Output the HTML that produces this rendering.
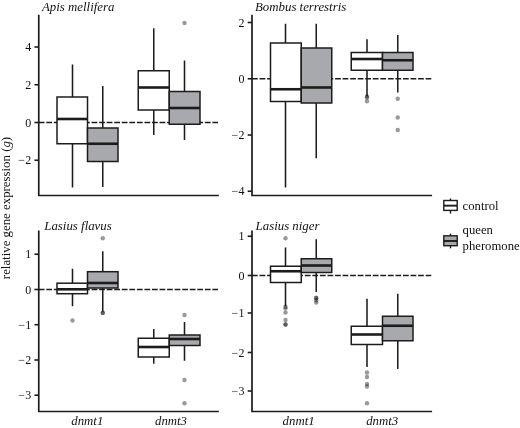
<!DOCTYPE html>
<html><head><meta charset="utf-8"><title>Relative gene expression</title>
<style>
html,body{margin:0;padding:0;background:#fff;}
svg{display:block;font-family:"Liberation Serif","Times New Roman",serif;}
.ax{fill:none;stroke:#1c1c1c;stroke-width:1.7;stroke-linecap:square;}
.tk{stroke:#1c1c1c;stroke-width:1.6;}
.w{stroke:#1c1c1c;stroke-width:1.55;}
.b{stroke:#1c1c1c;stroke-width:1.5;}
.m{stroke:#1c1c1c;stroke-width:2.6;}
.lk .m{stroke-width:1.9;}
.lk .b,.lk .w{stroke-width:1.4;}
.dz{stroke:#1c1c1c;stroke-width:1.65;stroke-dasharray:5.75 1.8;}
.o{fill:#000;fill-opacity:.4;}
.tl{font-size:12px;fill:#111;text-anchor:end;}
.ti{font-size:12.85px;font-style:italic;fill:#111;}
.xl{font-size:12.8px;font-style:italic;fill:#111;text-anchor:middle;}
.yl{font-size:12.85px;fill:#111;text-anchor:middle;}
.lg{font-size:12.68px;fill:#111;}
</style></head>
<body>
<svg width="520" height="428" viewBox="0 0 520 428">
<rect width="520" height="428" fill="#fff"/>
<path d="M38.75 15.5 V195.5 H218" class="ax"/>
<line x1="34.45" y1="47" x2="38.75" y2="47" class="tk"/>
<text x="31.15" y="51.1" class="tl">4</text>
<line x1="34.45" y1="84.75" x2="38.75" y2="84.75" class="tk"/>
<text x="31.15" y="88.85" class="tl">2</text>
<line x1="34.45" y1="122.5" x2="38.75" y2="122.5" class="tk"/>
<text x="31.15" y="126.6" class="tl">0</text>
<line x1="34.45" y1="160.25" x2="38.75" y2="160.25" class="tk"/>
<text x="31.15" y="164.35" class="tl">−2</text>
<line x1="38.75" y1="122.5" x2="218" y2="122.5" class="dz"/>
<text x="42" y="10.9" class="ti">Apis mellifera</text>
<line x1="72.5" y1="64.5" x2="72.5" y2="97" class="w"/>
<line x1="72.5" y1="143.75" x2="72.5" y2="187.5" class="w"/>
<rect x="57" y="97" width="30.5" height="46.75" fill="#ffffff" class="b"/>
<line x1="57" y1="119" x2="87.5" y2="119" class="m"/>
<line x1="102.75" y1="86" x2="102.75" y2="128" class="w"/>
<line x1="102.75" y1="161.5" x2="102.75" y2="187" class="w"/>
<rect x="87.5" y="128" width="30.5" height="33.5" fill="#a8a9ac" class="b"/>
<line x1="87.5" y1="143.75" x2="118" y2="143.75" class="m"/>
<line x1="153.75" y1="28.25" x2="153.75" y2="70.75" class="w"/>
<line x1="153.75" y1="110" x2="153.75" y2="135" class="w"/>
<rect x="138.25" y="70.75" width="31.0" height="39.25" fill="#ffffff" class="b"/>
<line x1="138.25" y1="87.5" x2="169.25" y2="87.5" class="m"/>
<line x1="184.5" y1="60.5" x2="184.5" y2="91.5" class="w"/>
<line x1="184.5" y1="124.25" x2="184.5" y2="140" class="w"/>
<rect x="169.25" y="91.5" width="30.75" height="32.75" fill="#a8a9ac" class="b"/>
<line x1="169.25" y1="108" x2="200" y2="108" class="m"/>
<circle cx="184.5" cy="23" r="2.2" class="o"/>
<path d="M252 15.5 V195.5 H431.25" class="ax"/>
<line x1="247.7" y1="22.5" x2="252" y2="22.5" class="tk"/>
<text x="244.4" y="26.6" class="tl">2</text>
<line x1="247.7" y1="78.75" x2="252" y2="78.75" class="tk"/>
<text x="244.4" y="82.85" class="tl">0</text>
<line x1="247.7" y1="135" x2="252" y2="135" class="tk"/>
<text x="244.4" y="139.1" class="tl">−2</text>
<line x1="247.7" y1="191.25" x2="252" y2="191.25" class="tk"/>
<text x="244.4" y="195.35" class="tl">−4</text>
<line x1="252" y1="78.75" x2="431.25" y2="78.75" class="dz"/>
<text x="255.0" y="10.9" class="ti">Bombus terrestris</text>
<line x1="285.5" y1="23.75" x2="285.5" y2="43" class="w"/>
<line x1="285.5" y1="101.5" x2="285.5" y2="187.5" class="w"/>
<rect x="270.5" y="43" width="30.75" height="58.5" fill="#ffffff" class="b"/>
<line x1="270.5" y1="89.25" x2="301.25" y2="89.25" class="m"/>
<line x1="316.25" y1="23.75" x2="316.25" y2="48" class="w"/>
<line x1="316.25" y1="103" x2="316.25" y2="158.25" class="w"/>
<rect x="301.25" y="48" width="30.5" height="55" fill="#a8a9ac" class="b"/>
<line x1="301.25" y1="87.5" x2="331.75" y2="87.5" class="m"/>
<line x1="367" y1="39.25" x2="367" y2="52.5" class="w"/>
<line x1="367" y1="70.25" x2="367" y2="96.25" class="w"/>
<rect x="351.25" y="52.5" width="31.25" height="17.75" fill="#ffffff" class="b"/>
<line x1="351.25" y1="59" x2="382.5" y2="59" class="m"/>
<line x1="397.75" y1="35" x2="397.75" y2="52.5" class="w"/>
<line x1="397.75" y1="70.25" x2="397.75" y2="92.5" class="w"/>
<rect x="382.5" y="52.5" width="30.5" height="17.75" fill="#a8a9ac" class="b"/>
<line x1="382.5" y1="60.25" x2="413" y2="60.25" class="m"/>
<circle cx="367" cy="96.5" r="2.2" class="o"/>
<circle cx="367" cy="97.5" r="2.2" class="o"/>
<circle cx="367" cy="101.25" r="2.2" class="o"/>
<circle cx="397.75" cy="98.75" r="2.2" class="o"/>
<circle cx="397.75" cy="117.5" r="2.2" class="o"/>
<circle cx="397.75" cy="130" r="2.2" class="o"/>
<path d="M38.75 231.25 V411.5 H218" class="ax"/>
<line x1="34.45" y1="254.25" x2="38.75" y2="254.25" class="tk"/>
<text x="31.15" y="258.35" class="tl">1</text>
<line x1="34.45" y1="289.5" x2="38.75" y2="289.5" class="tk"/>
<text x="31.15" y="293.6" class="tl">0</text>
<line x1="34.45" y1="324.7" x2="38.75" y2="324.7" class="tk"/>
<text x="31.15" y="328.8" class="tl">−1</text>
<line x1="34.45" y1="360" x2="38.75" y2="360" class="tk"/>
<text x="31.15" y="364.1" class="tl">−2</text>
<line x1="34.45" y1="395.2" x2="38.75" y2="395.2" class="tk"/>
<text x="31.15" y="399.3" class="tl">−3</text>
<line x1="38.75" y1="289.5" x2="218" y2="289.5" class="dz"/>
<text x="44.3" y="229.5" class="ti">Lasius flavus</text>
<line x1="72.5" y1="268.75" x2="72.5" y2="283.2" class="w"/>
<line x1="72.5" y1="293.7" x2="72.5" y2="306.25" class="w"/>
<rect x="57" y="283.2" width="30.5" height="10.5" fill="#ffffff" class="b"/>
<line x1="57" y1="289.3" x2="87.5" y2="289.3" class="m"/>
<line x1="102.75" y1="251.25" x2="102.75" y2="271.7" class="w"/>
<line x1="102.75" y1="288" x2="102.75" y2="311.5" class="w"/>
<rect x="87.5" y="271.7" width="30.5" height="16.30000000000001" fill="#a8a9ac" class="b"/>
<line x1="87.5" y1="283" x2="118" y2="283" class="m"/>
<circle cx="72.5" cy="320.5" r="2.2" class="o"/>
<circle cx="102.75" cy="238.25" r="2.2" class="o"/>
<circle cx="102.75" cy="312.7" r="2.2" class="o"/>
<circle cx="102.75" cy="313.0" r="2.2" class="o"/>
<line x1="153.75" y1="329" x2="153.75" y2="338.25" class="w"/>
<line x1="153.75" y1="357" x2="153.75" y2="363.75" class="w"/>
<rect x="138.25" y="338.25" width="31.0" height="18.75" fill="#ffffff" class="b"/>
<line x1="138.25" y1="347" x2="169.25" y2="347" class="m"/>
<line x1="184.5" y1="322" x2="184.5" y2="335" class="w"/>
<line x1="184.5" y1="345.5" x2="184.5" y2="360.75" class="w"/>
<rect x="169.25" y="335" width="30.75" height="10.5" fill="#a8a9ac" class="b"/>
<line x1="169.25" y1="339" x2="200" y2="339" class="m"/>
<circle cx="184.5" cy="315" r="2.2" class="o"/>
<circle cx="184.5" cy="380" r="2.2" class="o"/>
<circle cx="184.5" cy="403.25" r="2.2" class="o"/>
<path d="M252 231.25 V411.5 H431.25" class="ax"/>
<line x1="247.7" y1="236.25" x2="252" y2="236.25" class="tk"/>
<text x="244.4" y="240.35" class="tl">1</text>
<line x1="247.7" y1="275.5" x2="252" y2="275.5" class="tk"/>
<text x="244.4" y="279.6" class="tl">0</text>
<line x1="247.7" y1="313" x2="252" y2="313" class="tk"/>
<text x="244.4" y="317.1" class="tl">−1</text>
<line x1="247.7" y1="352.5" x2="252" y2="352.5" class="tk"/>
<text x="244.4" y="356.6" class="tl">−2</text>
<line x1="247.7" y1="391" x2="252" y2="391" class="tk"/>
<text x="244.4" y="395.1" class="tl">−3</text>
<line x1="252" y1="275.5" x2="431.25" y2="275.5" class="dz"/>
<text x="255.6" y="229.5" class="ti">Lasius niger</text>
<line x1="285.5" y1="247.5" x2="285.5" y2="266.25" class="w"/>
<line x1="285.5" y1="282.5" x2="285.5" y2="306" class="w"/>
<rect x="270.5" y="266.25" width="30.75" height="16.25" fill="#ffffff" class="b"/>
<line x1="270.5" y1="271.25" x2="301.25" y2="271.25" class="m"/>
<line x1="316.25" y1="239.25" x2="316.25" y2="258.75" class="w"/>
<line x1="316.25" y1="272.5" x2="316.25" y2="292" class="w"/>
<rect x="301.25" y="258.75" width="30.5" height="13.75" fill="#a8a9ac" class="b"/>
<line x1="301.25" y1="265.5" x2="331.75" y2="265.5" class="m"/>
<circle cx="285.5" cy="238.25" r="2.2" class="o"/>
<circle cx="285.5" cy="306.8" r="2.2" class="o"/>
<circle cx="285.5" cy="308.2" r="2.2" class="o"/>
<circle cx="285.5" cy="312.5" r="2.2" class="o"/>
<circle cx="285.5" cy="320" r="2.2" class="o"/>
<circle cx="285.5" cy="324.3" r="2.2" class="o"/>
<circle cx="285.5" cy="324.8" r="2.2" class="o"/>
<circle cx="316.25" cy="297.8" r="2.2" class="o"/>
<circle cx="316.25" cy="298.3" r="2.2" class="o"/>
<circle cx="316.25" cy="300.2" r="2.2" class="o"/>
<circle cx="316.25" cy="302.5" r="2.2" class="o"/>
<line x1="367" y1="298.75" x2="367" y2="326.25" class="w"/>
<line x1="367" y1="344.5" x2="367" y2="367" class="w"/>
<rect x="351.25" y="326.25" width="31.25" height="18.25" fill="#ffffff" class="b"/>
<line x1="351.25" y1="334.5" x2="382.5" y2="334.5" class="m"/>
<line x1="397.75" y1="293.75" x2="397.75" y2="316.25" class="w"/>
<line x1="397.75" y1="340.75" x2="397.75" y2="369" class="w"/>
<rect x="382.5" y="316.25" width="30.5" height="24.5" fill="#a8a9ac" class="b"/>
<line x1="382.5" y1="325.75" x2="413" y2="325.75" class="m"/>
<circle cx="367" cy="372.5" r="2.2" class="o"/>
<circle cx="367" cy="377" r="2.2" class="o"/>
<circle cx="367" cy="384" r="2.2" class="o"/>
<circle cx="367" cy="386.5" r="2.2" class="o"/>
<circle cx="367" cy="403.25" r="2.2" class="o"/>
<text x="87.3" y="424.5" class="xl">dnmt1</text>
<text x="171.0" y="424.5" class="xl">dnmt3</text>
<text x="298.6" y="424.5" class="xl">dnmt1</text>
<text x="382.2" y="424.5" class="xl">dnmt3</text>
<text transform="translate(10.2,208) rotate(-90)" class="yl">relative gene expression (<tspan font-style="italic">g</tspan>)</text>
<g class="lk">
<line x1="450.5" y1="198.5" x2="450.5" y2="200.5" class="w"/>
<line x1="450.5" y1="210.4" x2="450.5" y2="213.6" class="w"/>
<rect x="443.8" y="200.5" width="13.399999999999977" height="9.900000000000006" fill="#ffffff" class="b"/>
<line x1="443.8" y1="205.65" x2="457.2" y2="205.65" class="m"/>
<line x1="450.5" y1="233.6" x2="450.5" y2="235.8" class="w"/>
<line x1="450.5" y1="245.7" x2="450.5" y2="248.3" class="w"/>
<rect x="443.8" y="235.8" width="13.399999999999977" height="9.899999999999977" fill="#a8a9ac" class="b"/>
<line x1="443.8" y1="241" x2="457.2" y2="241" class="m"/>
</g>
<text x="462.6" y="210.2" class="lg">control</text>
<text x="462.6" y="234" class="lg">queen</text>
<text x="462.6" y="249.5" class="lg">pheromone</text>
</svg>
</body></html>
